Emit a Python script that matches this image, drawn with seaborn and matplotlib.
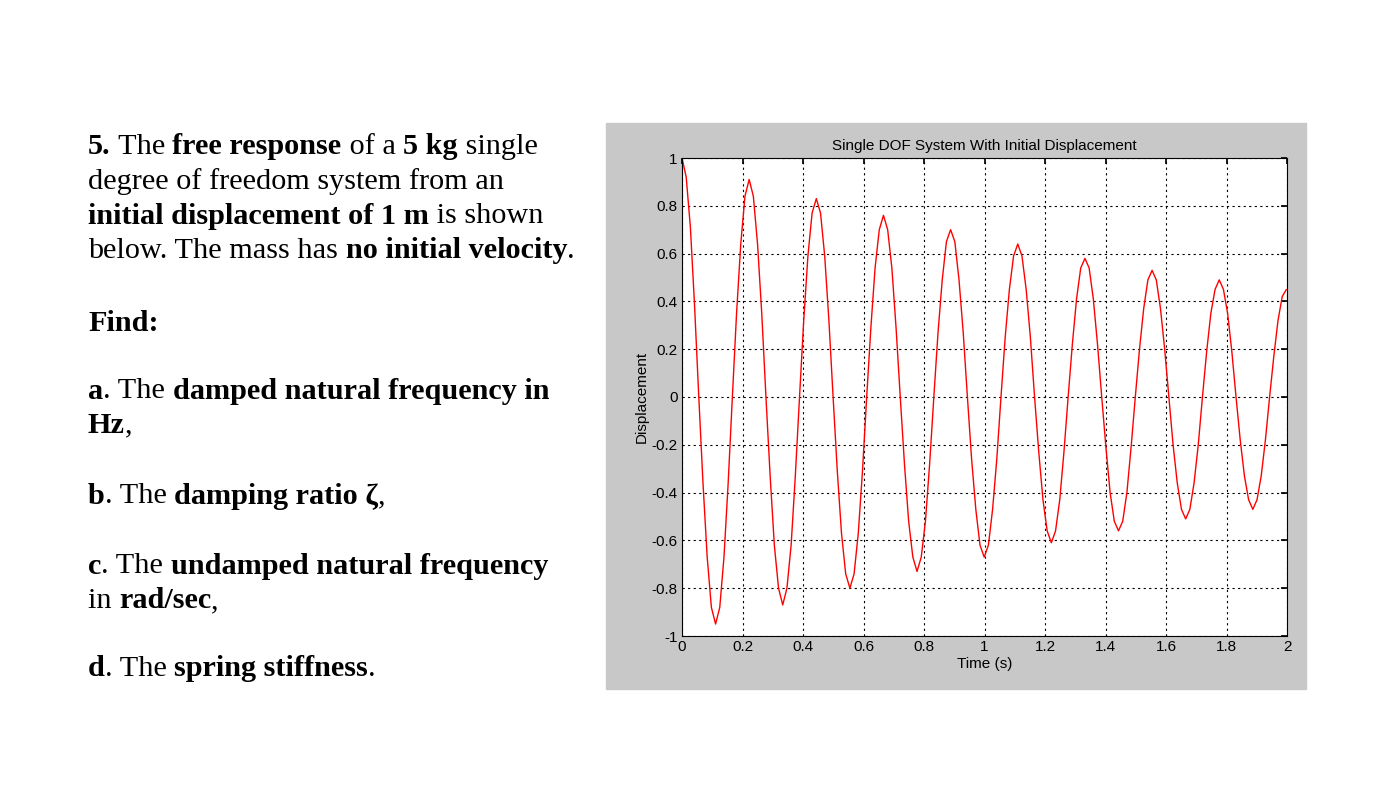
import numpy as np
import pandas as pd
import matplotlib
matplotlib.use("Agg")
import matplotlib.pyplot as plt
from matplotlib.patches import Rectangle
import seaborn as sns

# ── Data (16 samples per period) ──
DT = 0.013875
DISPLACEMENT = [
    1.00, .92, .71, .38, 0, -.36, -.67, -.88, -.95,
    -.88, -.67, -.36, 0, .35, .64, .84, .91,
    .84, .64, .35, 0, -.33, -.62, -.80, -.87,
    -.80, -.62, -.33, 0, .32, .59, .77, .83,
    .77, .59, .32, 0, -.31, -.57, -.74, -.80,
    -.74, -.57, -.31, 0, .29, .54, .70, .76,
    .70, .54, .29, 0, -.28, -.52, -.67, -.73,
    -.67, -.52, -.28, 0, .27, .49, .65, .70,
    .65, .49, .27, 0, -.26, -.47, -.62, -.67,
    -.62, -.47, -.26, 0, .25, .45, .59, .64,
    .59, .45, .25, 0, -.23, -.43, -.56, -.61,
    -.56, -.43, -.23, 0, .22, .41, .54, .58,
    .54, .41, .22, 0, -.21, -.40, -.52, -.56,
    -.52, -.40, -.21, 0, .20, .37, .49, .53,
    .49, .37, .20, 0, -.20, -.36, -.47, -.51,
    -.47, -.36, -.20, 0, .19, .35, .45, .49,
    .45, .35, .19, 0, -.18, -.33, -.43, -.47,
    -.43, -.33, -.18, 0, .17, .32, .42, .45,
]
TIME = np.arange(len(DISPLACEMENT)) * DT
X_TICKS = [0, 0.2, 0.4, 0.6, 0.8, 1, 1.2, 1.4, 1.6, 1.8, 2]
Y_TICKS = [-1, -0.8, -0.6, -0.4, -0.2, 0, 0.2, 0.4, 0.6, 0.8, 1]

# lines of the question text: (y pixel, [(text, bold), ...])
QUESTION = [
    (147, [("5.", True), (" The ", False), ("free response", True), (" of a ", False),
           ("5 kg", True), (" single", False)]),
    (182, [("degree of freedom system from an", False)]),
    (216, [("initial displacement of 1 m", True), (" is shown", False)]),
    (251, [("below. The mass has ", False), ("no initial velocity", True), (".", False)]),
    (323, [("Find:", True)]),
    (391, [("a", True), (". The ", False), ("damped natural frequency in", True)]),
    (425, [("Hz", True), (",", False)]),
    (496, [("b", True), (". The ", False), ("damping ratio ζ", True), (",", False)]),
    (566, [("c", True), (". The ", False), ("undamped natural frequency", True)]),
    (601, [("in ", False), ("rad/sec", True), (",", False)]),
    (669, [("d", True), (". The ", False), ("spring stiffness", True), (".", False)]),
]

# ── Figure ────────────────────────────────────────────────────────
sns.set_theme(style="white")
plt.rcParams["font.family"] = ["Liberation Sans", "DejaVu Sans"]
plt.rcParams["text.color"] = "black"
W, H = 1380, 792
fig = plt.figure(figsize=(W / 100, H / 100), dpi=100)
fig.patch.set_facecolor("white")

# grey MATLAB figure panel
fig.patches.append(Rectangle((606 / W, 1 - 689 / H), 700 / W, 566 / H,
                             transform=fig.transFigure, color="#c8c8c8", zorder=-5))

ax = fig.add_axes([682 / W, 1 - 636 / H, 605 / W, 478 / H])
ax.set_zorder(2)
ax.set_facecolor("white")
df = pd.DataFrame({"t": TIME, "x": DISPLACEMENT})
sns.lineplot(data=df, x="t", y="x", color="red", lw=1, ax=ax)
ax.set_xlim(0, 2)
ax.set_ylim(-1, 1)
ax.set_xticks(X_TICKS)
ax.set_xticklabels([f"{v:g}" for v in X_TICKS])
ax.set_yticks(Y_TICKS)
ax.set_yticklabels([f"{v:g}" for v in Y_TICKS])
ax.grid(True, color="black", linestyle=(0, (2, 3)), linewidth=0.8)
ax.tick_params(direction="in", length=4, labelsize=11, top=True, right=True,
               colors="black", labelcolor="black", pad=3)
for s in ax.spines.values():
    s.set_color("black")
    s.set_linewidth(0.8)
ax.set_xlabel("Time (s)", fontsize=11, labelpad=2, color="black")
ax.set_ylabel("Displacement", fontsize=11, labelpad=2, color="black")
ax.set_title("Single DOF System With Initial Displacement", fontsize=11, pad=6,
             color="black")

# ── Question text with mixed bold runs ───────────────────────────
renderer = fig.canvas.get_renderer()
for ypix, runs in QUESTION:
    x = 88
    for txt, bold in runs:
        t = fig.text(x / W, 1 - ypix / H, txt, fontsize=21.8, va="center", ha="left",
                     family=["Liberation Serif", "DejaVu Serif"], color="black",
                     fontweight="bold" if bold else "normal")
        x += t.get_window_extent(renderer).width

fig.savefig("out.png", dpi=100)
